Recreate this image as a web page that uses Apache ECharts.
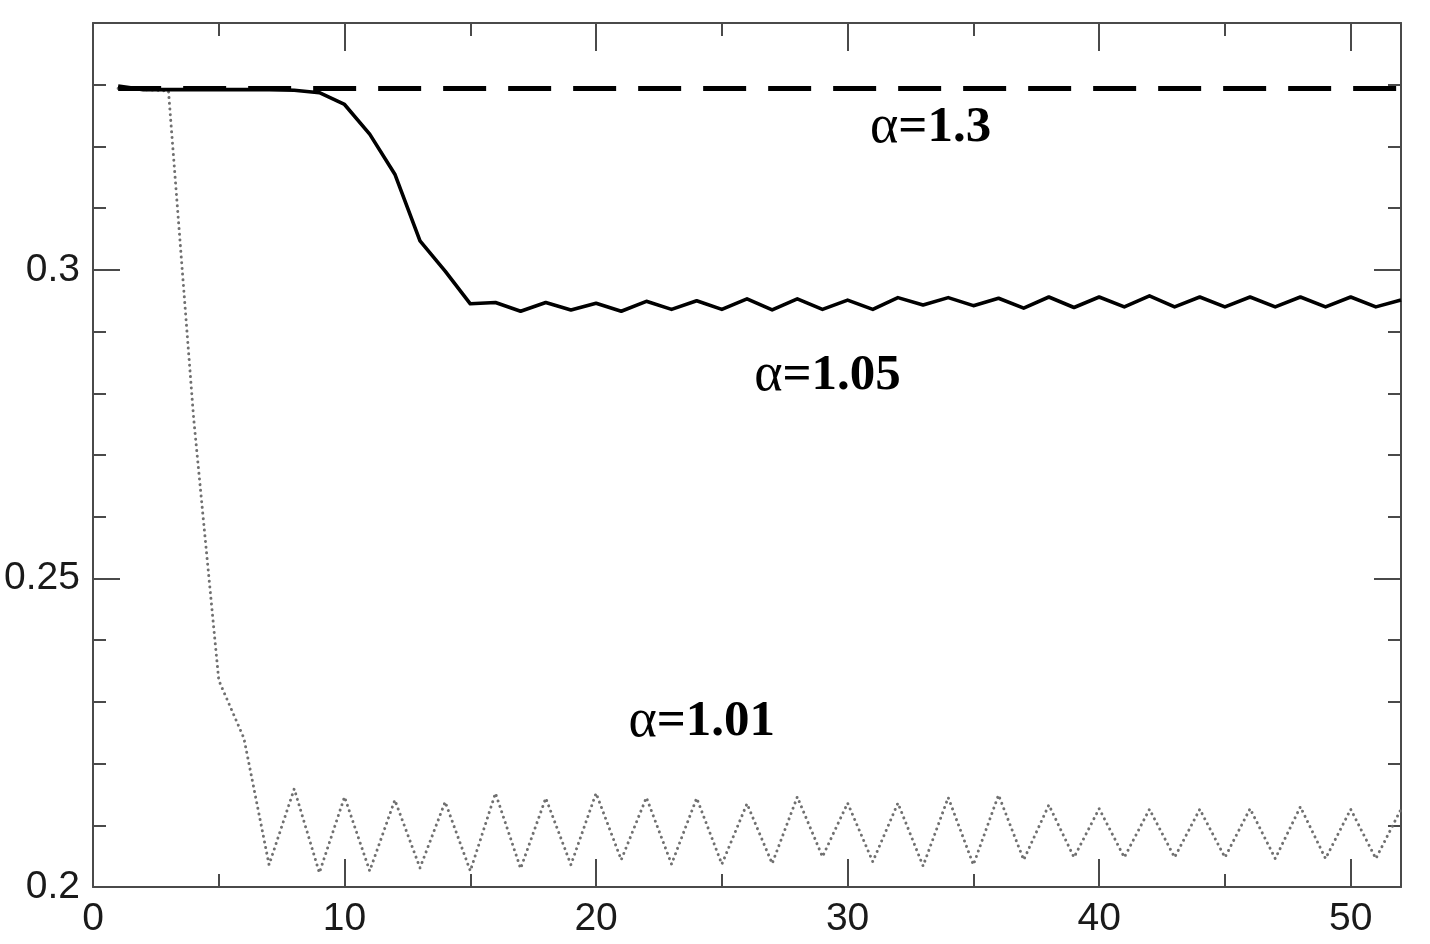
<!DOCTYPE html>
<html>
<head>
<meta charset="utf-8">
<script src="https://cdn.jsdelivr.net/npm/echarts@6/dist/echarts.min.js"></script>
<style>
html,body{margin:0;padding:0;background:#ffffff;}
#chart{width:1430px;height:944px;}
</style>
</head>
<body>
<div id="chart"></div>
<script>
// ---- data ----
const steps = [1,2,3,4,5,6,7,8,9,10,11,12,13,14,15,16,17,18,19,20,21,22,23,24,25,26,
               27,28,29,30,31,32,33,34,35,36,37,38,39,40,41,42,43,44,45,46,47,48,49,50,51,52];

// alpha = 1.01 (dotted)
const alpha101 = [0.3294,0.3292,0.3290,0.2760,0.2335,0.2241,0.2036,0.2159,0.2023,0.2146,
                  0.2026,0.2141,0.2031,0.2138,0.2026,0.2152,0.2030,0.2144,0.2036,0.2152,
                  0.2044,0.2145,0.2037,0.2144,0.2037,0.2135,0.2038,0.2146,0.2049,0.2136,
                  0.2041,0.2136,0.2034,0.2145,0.2036,0.2149,0.2044,0.2133,0.2048,0.2127,
                  0.2048,0.2126,0.2048,0.2126,0.2048,0.2127,0.2046,0.2130,0.2046,0.2126,
                  0.2046,0.2126];

// alpha = 1.05 (solid)
const alpha105 = [0.3298,0.3292,0.3292,0.3292,0.3292,0.3292,0.3292,0.3291,0.3287,0.3268,
                  0.3220,0.3155,0.3047,0.2998,0.2945,0.2947,0.2933,0.2947,0.2935,0.2946,
                  0.2933,0.2949,0.2936,0.2950,0.2936,0.2953,0.2935,0.2953,0.2936,0.2951,
                  0.2936,0.2955,0.2943,0.2955,0.2942,0.2954,0.2938,0.2956,0.2939,0.2956,
                  0.2940,0.2958,0.2940,0.2956,0.2940,0.2956,0.2940,0.2956,0.2940,0.2956,
                  0.2940,0.2951];

// alpha = 1.3 (dashed)
const alpha13 = [0.3294,0.3294,0.3294,0.3294,0.3294,0.3294,0.3294,0.3294,0.3294,0.3294,
                 0.3294,0.3294,0.3294,0.3294,0.3294,0.3294,0.3294,0.3294,0.3294,0.3294,
                 0.3294,0.3294,0.3294,0.3294,0.3294,0.3294,0.3294,0.3294,0.3294,0.3294,
                 0.3294,0.3294,0.3294,0.3294,0.3294,0.3294,0.3294,0.3294,0.3294,0.3294,
                 0.3294,0.3294,0.3294,0.3294,0.3294,0.3294,0.3294,0.3294,0.3294,0.3294,
                 0.3294,0.3294];

const xTickLabels = ['0','10','20','30','40','50'];
const yTickLabels = ['0.2','0.25','0.3'];
const curveNames = ['α=1.01','α=1.05','α=1.3'];

// ---- chart ----
const AXIS_COLOR = '#4a4a4a';
const X_MIN = 0, X_MAX = 52;
const Y_MIN = 0.2, Y_MAX = 0.34;

function pair(arr){ return steps.map((s,i)=>[s, arr[i]]); }

function labelFor(list){
  return function(v){
    for (const t of list){ if (Math.abs(Number(t) - v) < 1e-9) return t; }
    return '';
  };
}

function makeX(position, interval, tickLen, showLabel, showLine){
  return {
    type:'value', position, min:X_MIN, max:X_MAX, interval,
    axisLine:{show:showLine, onZero:false, lineStyle:{color:AXIS_COLOR, width:2}},
    axisTick:{show:true, inside:true, length:tickLen, lineStyle:{color:AXIS_COLOR, width:2}},
    axisLabel:{show:showLabel, margin:13, color:'#1a1a1a', fontSize:39,
               fontFamily:'Liberation Sans, Arial, sans-serif', formatter:labelFor(xTickLabels)},
    splitLine:{show:false}
  };
}
function makeY(position, interval, tickLen, showLabel, showLine){
  return {
    type:'value', position, min:Y_MIN, max:Y_MAX, interval,
    axisLine:{show:showLine, onZero:false, lineStyle:{color:AXIS_COLOR, width:2}},
    axisTick:{show:true, inside:true, length:tickLen, lineStyle:{color:AXIS_COLOR, width:2}},
    axisLabel:{show:showLabel, margin:13, color:'#1a1a1a', fontSize:39,
               fontFamily:'Liberation Sans, Arial, sans-serif', formatter:labelFor(yTickLabels)},
    splitLine:{show:false}
  };
}

function curveLabel(text, coord){
  const parts = text.split('=');
  return {
    symbol:'circle', symbolSize:0, silent:true,
    label:{
      show:true, position:'inside',
      formatter:'{a|' + parts[0] + '}{b|=' + parts[1] + '}',
      rich:{
        a:{fontFamily:'Liberation Serif, Times New Roman, serif', fontSize:54, fontWeight:'normal', color:'#000'},
        b:{fontFamily:'Liberation Serif, Times New Roman, serif', fontSize:51, fontWeight:'bold', color:'#000'}
      }
    },
    data:[{coord:coord}]
  };
}

const chart = echarts.init(document.getElementById('chart'), null, {renderer:'canvas'});
chart.setOption({
  animation:false,
  backgroundColor:'#ffffff',
  grid:{left:93, right:29, top:23, bottom:57, containLabel:false},
  xAxis:[
    makeX('bottom', 10, 28, true, true),
    makeX('bottom', 5, 13, false, false),
    makeX('top', 10, 28, false, true),
    makeX('top', 5, 13, false, false)
  ],
  yAxis:[
    makeY('left', 0.05, 27, true, true),
    makeY('left', 0.01, 13, false, false),
    makeY('right', 0.05, 27, false, true),
    makeY('right', 0.01, 13, false, false)
  ],
  series:[
    {
      name:curveNames[0], type:'line', xAxisIndex:0, yAxisIndex:0,
      data:pair(alpha101), showSymbol:false, symbol:'none', z:2,
      lineStyle:{color:'#707070', width:3, type:[0.01,5.7], cap:'round', join:'round'},
      markPoint:curveLabel(curveNames[0], [24.2, 0.2267])
    },
    {
      name:curveNames[1], type:'line', xAxisIndex:0, yAxisIndex:0,
      data:pair(alpha105), showSymbol:false, symbol:'none', z:3,
      lineStyle:{color:'#000000', width:3.6, type:'solid', join:'round'},
      markPoint:curveLabel(curveNames[1], [29.2, 0.2828])
    },
    {
      name:curveNames[2], type:'line', xAxisIndex:0, yAxisIndex:0,
      data:pair(alpha13), showSymbol:false, symbol:'none', z:4,
      lineStyle:{color:'#000000', width:5, type:[43,22], cap:'butt'},
      markPoint:curveLabel(curveNames[2], [33.3, 0.3230])
    }
  ]
});
</script>
</body>
</html>
